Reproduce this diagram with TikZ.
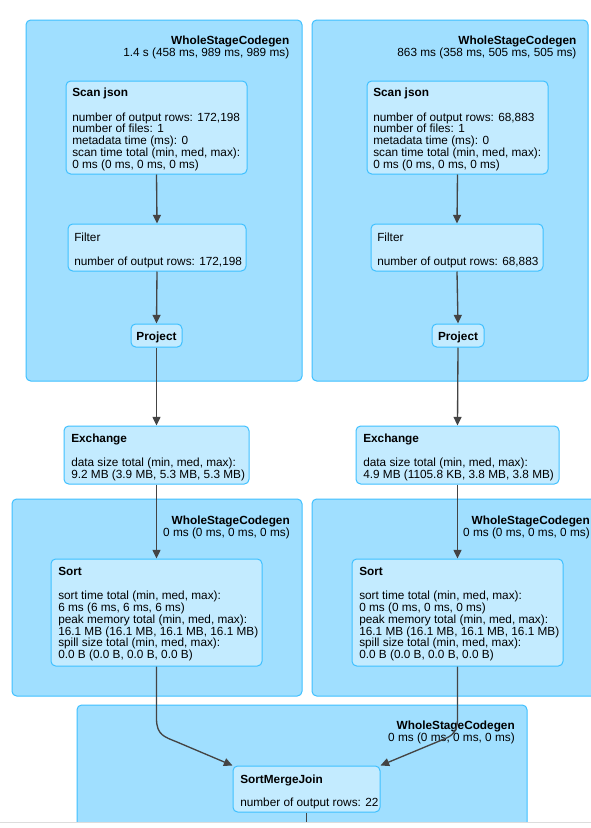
\documentclass[tikz,border=0pt]{standalone}
\usepackage{fontspec}
\setmainfont{Liberation Sans}
\usetikzlibrary{fit,arrows.meta}
\definecolor{clfill}{HTML}{A0DFFF}
\definecolor{clline}{HTML}{3EC0FF}
\definecolor{opfill}{HTML}{C3EBFF}
\definecolor{opline}{HTML}{3EC0FF}
\definecolor{edgec}{HTML}{444444}
\definecolor{cutline}{HTML}{DDDDDD}
\begin{document}
\begin{tikzpicture}[x=0.75pt,y=-0.75pt,
 cluster/.style={draw=clline, fill=clfill, line width=0.75pt, rounded corners=3.5pt, inner sep=0pt},
 opbox/.style={draw=opline, fill=opfill, line width=0.75pt, rounded corners=3.5pt, inner sep=0pt},
 optext/.style={anchor=north west, inner sep=0pt, align=left, font=\fontsize{8.85pt}{8.85pt}\selectfont},
 cltitle/.style={anchor=north east, inner sep=0pt, align=right, font=\fontsize{8.85pt}{9.2pt}\selectfont},
 flow/.style={draw=edgec, line width=1pt, -{Triangle[length=6.5pt,width=6pt]}},
 flowplain/.style={draw=edgec, line width=1pt}
]
\useasboundingbox (0,0) rectangle (591,828);
\fill[white] (0,0) rectangle (591,828);
\begin{scope}
\clip (0,0) rectangle (591,821.5);
% clusters
\node[cluster, fit={(26,20) (302,381)}] (clA) {};
\node[cluster, fit={(312,20) (588,381)}] (clB) {};
\node[cluster, fit={(12,499) (302,696)}] (clC) {};
\node[cluster, fit={(312,499) (602,696)}] (clD) {};
\node[cluster, fit={(77,705) (527,850)}] (clE) {};
% cluster titles
\node[cltitle] (tA) at (289.5,35.7) {\textbf{WholeStageCodegen}\\1.4 s (458 ms, 989 ms, 989 ms)};
\node[cltitle] (tB) at (576.7,35.7) {\textbf{WholeStageCodegen}\\863 ms (358 ms, 505 ms, 505 ms)};
\node[cltitle] (tC) at (290,515.7) {\textbf{WholeStageCodegen}\\0 ms (0 ms, 0 ms, 0 ms)};
\node[cltitle] (tD) at (590,515.7) {\textbf{WholeStageCodegen}\\0 ms (0 ms, 0 ms, 0 ms)};
\node[cltitle] (tE) at (515,720.7) {\textbf{WholeStageCodegen}\\0 ms (0 ms, 0 ms, 0 ms)};
% operator boxes
\node[opbox, fit={(66,81) (247,174)}] (scanL) {};
\node[opbox, fit={(367,81) (548,174)}] (scanR) {};
\node[opbox, fit={(68,224) (246,271)}] (filterL) {};
\node[opbox, fit={(371,224) (543,271)}] (filterR) {};
\node[opbox, fit={(131,324) (182,347)}] (projL) {};
\node[opbox, fit={(432,324) (484,347)}] (projR) {};
\node[opbox, fit={(64,426) (249,484)}] (exchL) {};
\node[opbox, fit={(356,426) (559,484)}] (exchR) {};
\node[opbox, fit={(51,559) (262,666)}] (sortL) {};
\node[opbox, fit={(352,559) (563,666)}] (sortR) {};
\node[opbox, fit={(233,766) (380,812)}] (smj) {};
% operator texts
\node[optext] (scanLt) at (72,88) {\textbf{Scan json}\\[9.3pt]number of output rows: 172,198\\number of files: 1\\metadata time (ms): 0\\scan time total (min, med, max):\\0 ms (0 ms, 0 ms, 0 ms)};
\node[optext] (scanRt) at (373,88) {\textbf{Scan json}\\[9.3pt]number of output rows: 68,883\\number of files: 1\\metadata time (ms): 0\\scan time total (min, med, max):\\0 ms (0 ms, 0 ms, 0 ms)};
\node[optext] (filterLt) at (74,232.4) {Filter\\[9.2pt]number of output rows: 172,198};
\node[optext] (filterRt) at (377,232.4) {Filter\\[9.2pt]number of output rows: 68,883};
\node[inner sep=0pt, font=\fontsize{8.85pt}{9pt}\selectfont\bfseries] (projLt) at ([yshift=-1.5pt]projL.center) {Project};
\node[inner sep=0pt, font=\fontsize{8.85pt}{9pt}\selectfont\bfseries] (projRt) at ([yshift=-1.5pt]projR.center) {Project};
\node[optext] (exchLt) at (71,434) {\textbf{Exchange}\\[9pt]data size total (min, med, max):\\9.2 MB (3.9 MB, 5.3 MB, 5.3 MB)};
\node[optext] (exchRt) at (363,434) {\textbf{Exchange}\\[9pt]data size total (min, med, max):\\4.9 MB (1105.8 KB, 3.8 MB, 3.8 MB)};
\node[optext] (sortLt) at (58,567.4) {\textbf{Sort}\\[9pt]sort time total (min, med, max):\\6 ms (6 ms, 6 ms, 6 ms)\\peak memory total (min, med, max):\\16.1 MB (16.1 MB, 16.1 MB, 16.1 MB)\\spill size total (min, med, max):\\0.0 B (0.0 B, 0.0 B, 0.0 B)};
\node[optext] (sortRt) at (359,567.4) {\textbf{Sort}\\[9pt]sort time total (min, med, max):\\0 ms (0 ms, 0 ms, 0 ms)\\peak memory total (min, med, max):\\16.1 MB (16.1 MB, 16.1 MB, 16.1 MB)\\spill size total (min, med, max):\\0.0 B (0.0 B, 0.0 B, 0.0 B)};
\node[optext] (smjt) at (240,775) {\textbf{SortMergeJoin}\\[7.9pt]number of output rows: 22};
% edges
\draw[flow] (scanL.south) -- (filterL.north);
\draw[flow] (filterL.south) -- (projL.north);
\draw[flow] (projL.south) -- (exchL.north);
\draw[flow] (exchL.south) -- (sortL.north);
\draw[flow] (scanR.south) -- (filterR.north);
\draw[flow] (filterR.south) -- (projR.north);
\draw[flow] (projR.south) -- (exchR.north);
\draw[flow] (exchR.south) -- (sortR.north);
\draw[flow] (sortL.south) -- ++(0,52) .. controls ++(0,17) and (165,737) .. (177,742) -- (smj.north west);
\draw[flow] (sortR.south) -- ++(0,52) .. controls ++(0,17) and (449,737) .. (437,742) -- (smj.north east);
\coordinate (cutpt) at (306.5,830);
\draw[flowplain] (smj.south) -- (cutpt);
\end{scope}
\fill[cutline] (0,821.5) rectangle (591,822.5);
\end{tikzpicture}
\end{document}
